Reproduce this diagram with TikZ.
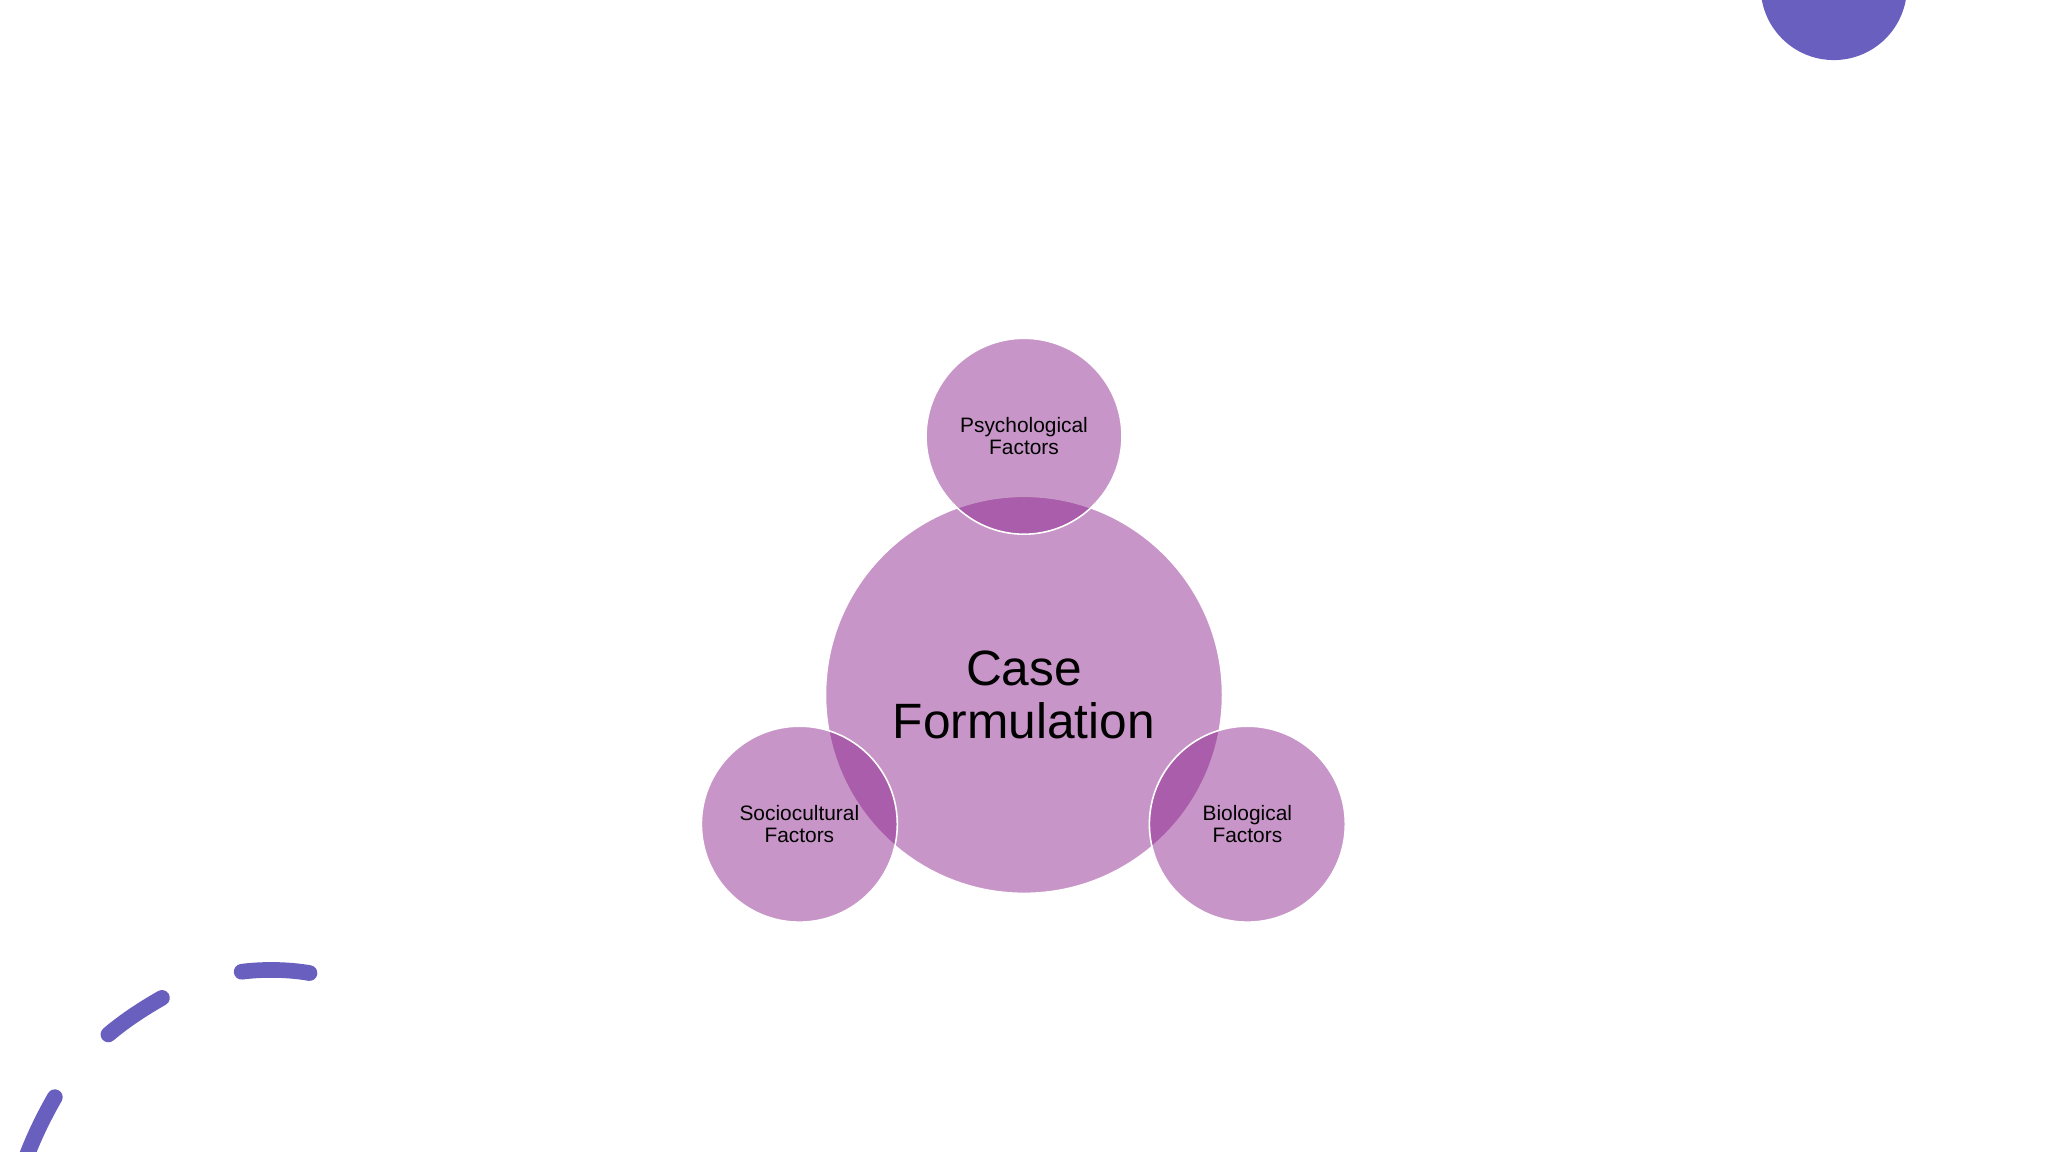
\documentclass[tikz,border=0pt]{standalone}
\usepackage{fontspec}
\setmainfont{Liberation Sans}
\definecolor{vpurple}{RGB}{134,25,134}
\definecolor{accent}{RGB}{104,95,190}
\begin{document}
\begin{tikzpicture}[x=1pt,y=-1pt,
  venn/.style={circle,fill=vpurple,fill opacity=0.46,text opacity=1,draw=white,line width=1.2pt,inner sep=0pt,align=center},
  dashline/.style={accent,line width=12pt,line cap=round}]
\useasboundingbox (0,0) rectangle (1568,882);
\fill[accent] (1404,-10) circle (56);
\node[venn,minimum size=304pt,font=\fontsize{38}{41}\selectfont] (c) at (784,532) {Case\\Formulation};
\node[venn,minimum size=150pt,font=\fontsize{16}{17}\selectfont] (p) at (784,334) {Psychological\\Factors};
\node[venn,minimum size=150pt,font=\fontsize{16}{17}\selectfont] (s) at (612,631) {Sociocultural\\Factors};
\node[venn,minimum size=150pt,font=\fontsize{16}{17}\selectfont] (b) at (955,631) {Biological\\Factors};
\coordinate (d1a) at (185,744); \coordinate (d1b) at (237,745);
\coordinate (d2a) at (83,792); \coordinate (d2b) at (124,764);
\coordinate (d3a) at (20,886); \coordinate (d3b) at (42,840);
\draw[dashline] (d1a) .. controls (200,742) and (220,742) .. (d1b);
\draw[dashline] (d2a) .. controls (96,781) and (110,772) .. (d2b);
\draw[dashline] (d3a) .. controls (27,868) and (34,854) .. (d3b);
\end{tikzpicture}
\end{document}
